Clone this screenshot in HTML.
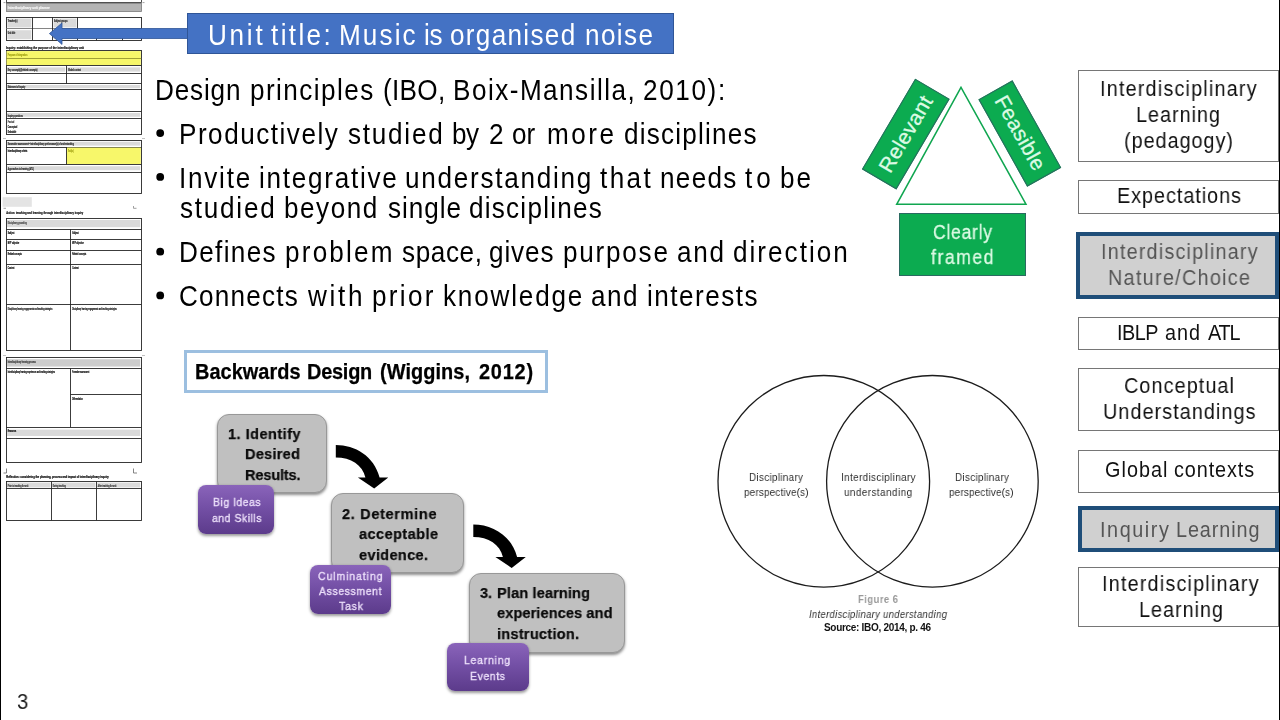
<!DOCTYPE html>
<html lang="en">
<head>
<meta charset="utf-8">
<title>Unit title: Music is organised noise</title>
<style>
html,body{margin:0;padding:0;background:#fff;}
body{width:1280px;height:720px;overflow:hidden;position:relative;font-family:"Liberation Sans",sans-serif;}
#slide{position:absolute;left:0;top:0;width:1280px;height:720px;overflow:hidden;background:#fff;}
.t{position:absolute;white-space:nowrap;line-height:1;color:#000;font-family:"Liberation Sans",sans-serif;will-change:transform;transform-origin:0 0;}
.ln{position:absolute;left:0;width:1280px;height:1em;white-space:nowrap;line-height:1;color:#000;will-change:transform;}
.ln span{position:absolute;top:0;transform:scaleX(var(--sx,1));transform-origin:0 0;}
.abs{position:absolute;box-sizing:border-box;}
svg{position:absolute;left:0;top:0;overflow:visible;}
#thumb{will-change:transform;}

#edgeL{left:0;top:0;width:1px;height:720px;background:#000;}
#edgeR{left:1279px;top:0;width:1px;height:720px;background:#000;}
#titlebox{left:187px;top:13.4px;width:487px;height:40.6px;background:#4472c4;border:1px solid #2f5597;}
.nav{background:#fff;border:1px solid #767676;}
.nav.hl{background:#d0d0d0;border:4px solid #1f4e79;}
#bdtitle{left:184px;top:350px;width:364px;height:42.6px;background:#fff;border:3px solid #9cbfe0;}
.gbox{background:#c0c0c0;border:1.2px solid #989898;border-radius:12px;box-shadow:0 2px 3px rgba(0,0,0,.45);}
.pbox{background:linear-gradient(#8a64ba,#7450a6 45%,#5c3b8b);border-radius:8px;box-shadow:0 1.5px 3px rgba(0,0,0,.4);}
.green{background:#0cab50;border:1.3px solid #2a6a60;}
</style>
</head>
<body>
<div id="slide">
<svg id="thumb" width="150" height="530" viewBox="0 0 150 530" font-family="Liberation Sans, sans-serif">
<rect x="6.5" y="-5.5" width="135.00" height="8.00" fill="#fff" stroke="#262626" stroke-width="0.8"/>
<rect x="6.5" y="3.5" width="135.00" height="8.00" fill="#b4b4b4" stroke="#7a7a7a" stroke-width="0.8"/>
<text x="7.8" y="9.4" font-size="3.57" fill="#f4f4f4" stroke="#f4f4f4" stroke-width="0.2" font-weight="bold" textLength="42" lengthAdjust="spacingAndGlyphs">Interdisciplinary unit planner</text>
<rect x="6.5" y="17.5" width="135.00" height="23.00" fill="#fff" stroke="#262626" stroke-width="0.9"/>
<line x1="6.3" y1="28.5" x2="141.3" y2="28.5" stroke="#777" stroke-width="0.9"/>
<line x1="32.5" y1="17.2" x2="32.5" y2="40.4" stroke="#262626" stroke-width="0.9"/>
<line x1="52.5" y1="17.2" x2="52.5" y2="40.4" stroke="#262626" stroke-width="0.9"/>
<line x1="77.5" y1="17.2" x2="77.5" y2="40.4" stroke="#262626" stroke-width="0.9"/>
<line x1="96.5" y1="28.8" x2="96.5" y2="40.4" stroke="#262626" stroke-width="0.9"/>
<line x1="122.5" y1="28.8" x2="122.5" y2="40.4" stroke="#262626" stroke-width="0.9"/>
<rect x="7.3" y="18.6" width="24.00" height="8.80" fill="#dadada"/>
<rect x="53.5" y="18.6" width="23.00" height="8.80" fill="#dadada"/>
<rect x="7.3" y="30.2" width="24.00" height="9.00" fill="#dadada"/>
<rect x="53.5" y="30.2" width="23.00" height="9.00" fill="#dadada"/>
<rect x="97" y="30.2" width="24.50" height="9.00" fill="#dadada"/>
<text x="7.8" y="22.4" font-size="2.8" fill="#333" stroke="#333" stroke-width="0.2" font-weight="bold" textLength="9.5" lengthAdjust="spacingAndGlyphs">Teacher(s)</text>
<text x="54" y="22.4" font-size="2.8" fill="#333" stroke="#333" stroke-width="0.2" font-weight="bold" textLength="13.5" lengthAdjust="spacingAndGlyphs">Subject groups</text>
<text x="7.8" y="34.0" font-size="2.8" fill="#333" stroke="#333" stroke-width="0.2" font-weight="bold" textLength="7.5" lengthAdjust="spacingAndGlyphs">Unit title</text>
<text x="54" y="34.0" font-size="2.8" fill="#333" stroke="#333" stroke-width="0.2" font-weight="bold" textLength="8.5" lengthAdjust="spacingAndGlyphs">MYP year</text>
<text x="97.5" y="34.0" font-size="2.8" fill="#333" stroke="#333" stroke-width="0.2" font-weight="bold" textLength="11.5" lengthAdjust="spacingAndGlyphs">Unit duration</text>
<text x="6" y="48.6" font-size="2.89" fill="#222" stroke="#222" stroke-width="0.2" font-weight="bold" textLength="78" lengthAdjust="spacingAndGlyphs">Inquiry: establishing the purpose of the interdisciplinary unit</text>
<rect x="6.5" y="50.5" width="135.00" height="84.00" fill="#fff" stroke="#262626" stroke-width="0.9"/>
<rect x="6.5" y="51.1" width="134.30" height="14.20" fill="#f7f76a"/>
<line x1="6.3" y1="58.5" x2="141.3" y2="58.5" stroke="#8a8a2a" stroke-width="0.8"/>
<text x="7.8" y="56.0" font-size="2.8" fill="#a9a91a" stroke="#a9a91a" stroke-width="0.2" font-weight="bold" textLength="19.5" lengthAdjust="spacingAndGlyphs">Purpose of integration</text>
<line x1="6.3" y1="65.5" x2="141.3" y2="65.5" stroke="#262626" stroke-width="0.9"/>
<rect x="7" y="67.4" width="58.20" height="4.20" fill="#dadada"/>
<rect x="67.2" y="67.4" width="73.00" height="4.20" fill="#dadada"/>
<text x="7.8" y="71.0" font-size="2.8" fill="#333" stroke="#333" stroke-width="0.2" font-weight="bold" textLength="29.5" lengthAdjust="spacingAndGlyphs">Key concept(s)/(related concepts)</text>
<text x="68" y="71.0" font-size="2.8" fill="#333" stroke="#333" stroke-width="0.2" font-weight="bold" textLength="13" lengthAdjust="spacingAndGlyphs">Global context</text>
<line x1="6.3" y1="73.5" x2="141.3" y2="73.5" stroke="#262626" stroke-width="0.9"/>
<line x1="66.5" y1="65.6" x2="66.5" y2="83.6" stroke="#262626" stroke-width="0.9"/>
<line x1="6.3" y1="83.5" x2="141.3" y2="83.5" stroke="#262626" stroke-width="0.9"/>
<rect x="7" y="85" width="133.20" height="3.20" fill="#dadada"/>
<text x="7.8" y="88.0" font-size="2.8" fill="#333" stroke="#333" stroke-width="0.2" font-weight="bold" textLength="17.5" lengthAdjust="spacingAndGlyphs">Statement of inquiry</text>
<line x1="6.3" y1="89.5" x2="141.3" y2="89.5" stroke="#262626" stroke-width="0.9"/>
<line x1="6.3" y1="111.5" x2="141.3" y2="111.5" stroke="#262626" stroke-width="0.9"/>
<rect x="7" y="113" width="133.20" height="3.80" fill="#dadada"/>
<text x="7.8" y="116.6" font-size="2.8" fill="#333" stroke="#333" stroke-width="0.2" font-weight="bold" textLength="15" lengthAdjust="spacingAndGlyphs">Inquiry questions</text>
<line x1="6.3" y1="118.5" x2="141.3" y2="118.5" stroke="#262626" stroke-width="0.9"/>
<text x="7.8" y="123.0" font-size="2.8" fill="#444" stroke="#444" stroke-width="0.2" textLength="6.5" lengthAdjust="spacingAndGlyphs">Factual</text>
<text x="7.8" y="128.0" font-size="2.8" fill="#222" stroke="#222" stroke-width="0.2" font-weight="bold" textLength="9.5" lengthAdjust="spacingAndGlyphs">Conceptual</text>
<text x="7.8" y="132.8" font-size="2.8" fill="#222" stroke="#222" stroke-width="0.2" font-weight="bold" textLength="8.5" lengthAdjust="spacingAndGlyphs">Debatable</text>
<rect x="6.5" y="140.5" width="135.00" height="53.00" fill="#fff" stroke="#262626" stroke-width="0.9"/>
<rect x="7" y="141.8" width="133.20" height="3.80" fill="#dadada"/>
<text x="7.8" y="145.4" font-size="2.8" fill="#333" stroke="#333" stroke-width="0.2" font-weight="bold" textLength="66" lengthAdjust="spacingAndGlyphs">Summative assessment—interdisciplinary performance(s) of understanding</text>
<line x1="6.3" y1="147.5" x2="141.3" y2="147.5" stroke="#262626" stroke-width="0.9"/>
<rect x="66.5" y="147.6" width="74.30" height="16.40" fill="#f7f76a"/>
<line x1="66.5" y1="147" x2="66.5" y2="164.6" stroke="#262626" stroke-width="0.9"/>
<text x="7.8" y="152.2" font-size="2.8" fill="#111" stroke="#111" stroke-width="0.2" font-weight="bold" textLength="19.5" lengthAdjust="spacingAndGlyphs">Interdisciplinary criteria</text>
<text x="68" y="152.2" font-size="2.8" fill="#a9a91a" stroke="#a9a91a" stroke-width="0.2" font-weight="bold" textLength="5.5" lengthAdjust="spacingAndGlyphs">Task(s)</text>
<line x1="6.3" y1="164.5" x2="141.3" y2="164.5" stroke="#262626" stroke-width="0.9"/>
<rect x="7" y="166.2" width="133.20" height="4.00" fill="#dadada"/>
<text x="7.8" y="170.0" font-size="2.8" fill="#333" stroke="#333" stroke-width="0.2" font-weight="bold" textLength="26" lengthAdjust="spacingAndGlyphs">Approaches to learning (ATL)</text>
<line x1="6.3" y1="172.5" x2="141.3" y2="172.5" stroke="#262626" stroke-width="0.9"/>
<rect x="2.6" y="197.2" width="29.20" height="9.60" fill="#e4e4e4"/>
<line x1="3.0" y1="138.5" x2="6.0" y2="138.5" stroke="#999" stroke-width="0.6"/>
<line x1="142.0" y1="138.5" x2="145.0" y2="138.5" stroke="#999" stroke-width="0.6"/>
<line x1="3.0" y1="355.5" x2="6.0" y2="355.5" stroke="#999" stroke-width="0.6"/>
<line x1="142.0" y1="355.5" x2="145.0" y2="355.5" stroke="#999" stroke-width="0.6"/>
<path d="M133.5 206v2.3h3M3.5 208.3h2.5" fill="none" stroke="#777" stroke-width="0.7"/>
<path d="M6.5 468.5v4.5h-3M133.5 468.5v4.5h3.5" fill="none" stroke="#666" stroke-width="0.8"/>
<path d="M3.5 2.6h2M142.5 2.6h2" fill="none" stroke="#777" stroke-width="0.7"/>
<text x="6.3" y="213.6" font-size="2.89" fill="#222" stroke="#222" stroke-width="0.2" font-weight="bold" textLength="77" lengthAdjust="spacingAndGlyphs">Action: teaching and learning through interdisciplinary inquiry</text>
<rect x="6.5" y="218.5" width="135.00" height="132.00" fill="#fff" stroke="#262626" stroke-width="0.9"/>
<rect x="7" y="220" width="133.20" height="7.20" fill="#dadada"/>
<text x="7.8" y="223.8" font-size="2.8" fill="#555" stroke="#555" stroke-width="0.2" font-weight="bold" textLength="19" lengthAdjust="spacingAndGlyphs">Disciplinary grounding</text>
<line x1="6.3" y1="229.5" x2="141.3" y2="229.5" stroke="#262626" stroke-width="0.9"/>
<line x1="6.3" y1="239.5" x2="141.3" y2="239.5" stroke="#262626" stroke-width="0.9"/>
<line x1="6.3" y1="250.5" x2="141.3" y2="250.5" stroke="#262626" stroke-width="0.9"/>
<line x1="6.3" y1="264.5" x2="141.3" y2="264.5" stroke="#262626" stroke-width="0.9"/>
<line x1="6.3" y1="304.5" x2="141.3" y2="304.5" stroke="#262626" stroke-width="0.9"/>
<line x1="70.5" y1="229.2" x2="70.5" y2="350.2" stroke="#262626" stroke-width="0.9"/>
<text x="7.8" y="234.2" font-size="2.8" fill="#111" stroke="#111" stroke-width="0.2" font-weight="bold" textLength="6.5" lengthAdjust="spacingAndGlyphs">Subject</text>
<text x="7.8" y="244.4" font-size="2.8" fill="#111" stroke="#111" stroke-width="0.2" font-weight="bold" textLength="11.5" lengthAdjust="spacingAndGlyphs">MYP objective</text>
<text x="7.8" y="255.4" font-size="2.8" fill="#111" stroke="#111" stroke-width="0.2" font-weight="bold" textLength="14" lengthAdjust="spacingAndGlyphs">Related concepts</text>
<text x="7.8" y="269.4" font-size="2.8" fill="#111" stroke="#111" stroke-width="0.2" font-weight="bold" textLength="6.5" lengthAdjust="spacingAndGlyphs">Content</text>
<text x="7.8" y="309.6" font-size="2.8" fill="#222" stroke="#222" stroke-width="0.2" font-weight="bold" textLength="44.5" lengthAdjust="spacingAndGlyphs">Disciplinary learning engagements and teaching strategies</text>
<text x="72.2" y="234.2" font-size="2.8" fill="#111" stroke="#111" stroke-width="0.2" font-weight="bold" textLength="6.5" lengthAdjust="spacingAndGlyphs">Subject</text>
<text x="72.2" y="244.4" font-size="2.8" fill="#111" stroke="#111" stroke-width="0.2" font-weight="bold" textLength="11.5" lengthAdjust="spacingAndGlyphs">MYP objective</text>
<text x="72.2" y="255.4" font-size="2.8" fill="#111" stroke="#111" stroke-width="0.2" font-weight="bold" textLength="14" lengthAdjust="spacingAndGlyphs">Related concepts</text>
<text x="72.2" y="269.4" font-size="2.8" fill="#111" stroke="#111" stroke-width="0.2" font-weight="bold" textLength="6.5" lengthAdjust="spacingAndGlyphs">Content</text>
<text x="72.2" y="309.6" font-size="2.8" fill="#222" stroke="#222" stroke-width="0.2" font-weight="bold" textLength="44.5" lengthAdjust="spacingAndGlyphs">Disciplinary learning engagements and teaching strategies</text>
<rect x="6.5" y="357.5" width="135.00" height="105.00" fill="#fff" stroke="#262626" stroke-width="0.9"/>
<rect x="7" y="359.2" width="133.20" height="7.40" fill="#cdcdcd"/>
<text x="7.8" y="362.8" font-size="2.8" fill="#444" stroke="#444" stroke-width="0.2" font-weight="bold" textLength="28" lengthAdjust="spacingAndGlyphs">Interdisciplinary learning process</text>
<line x1="6.3" y1="368.5" x2="141.3" y2="368.5" stroke="#262626" stroke-width="0.9"/>
<line x1="70.5" y1="368.2" x2="70.5" y2="427.2" stroke="#262626" stroke-width="0.9"/>
<line x1="70.6" y1="394.5" x2="141.3" y2="394.5" stroke="#262626" stroke-width="0.9"/>
<line x1="6.3" y1="427.5" x2="141.3" y2="427.5" stroke="#262626" stroke-width="0.9"/>
<rect x="7" y="429.6" width="133.20" height="6.40" fill="#dadada"/>
<line x1="6.3" y1="438.5" x2="141.3" y2="438.5" stroke="#262626" stroke-width="0.9"/>
<text x="7.8" y="373.4" font-size="2.8" fill="#111" stroke="#111" stroke-width="0.2" font-weight="bold" textLength="47" lengthAdjust="spacingAndGlyphs">Interdisciplinary learning experiences and teaching strategies</text>
<text x="72.2" y="373.4" font-size="2.8" fill="#111" stroke="#111" stroke-width="0.2" font-weight="bold" textLength="17" lengthAdjust="spacingAndGlyphs">Formative assessment</text>
<text x="72.2" y="399.6" font-size="2.8" fill="#111" stroke="#111" stroke-width="0.2" font-weight="bold" textLength="10.5" lengthAdjust="spacingAndGlyphs">Differentiation</text>
<text x="7.8" y="432.4" font-size="2.8" fill="#111" stroke="#111" stroke-width="0.2" font-weight="bold" textLength="8.5" lengthAdjust="spacingAndGlyphs">Resources</text>
<text x="6.3" y="478.4" font-size="2.89" fill="#111" stroke="#111" stroke-width="0.2" font-weight="bold" textLength="102.5" lengthAdjust="spacingAndGlyphs">Reflection: considering the planning, process and impact of interdisciplinary inquiry</text>
<rect x="6.5" y="481.5" width="135.00" height="39.00" fill="#fff" stroke="#262626" stroke-width="0.9"/>
<rect x="7" y="482.6" width="43.40" height="4.80" fill="#dadada"/>
<rect x="52.2" y="482.6" width="43.20" height="4.80" fill="#dadada"/>
<rect x="97.2" y="482.6" width="43.00" height="4.80" fill="#dadada"/>
<line x1="6.3" y1="488.5" x2="141.3" y2="488.5" stroke="#262626" stroke-width="0.9"/>
<line x1="51.5" y1="481.4" x2="51.5" y2="520.2" stroke="#262626" stroke-width="0.9"/>
<line x1="96.5" y1="481.4" x2="96.5" y2="520.2" stroke="#262626" stroke-width="0.9"/>
<text x="7.8" y="486.8" font-size="2.8" fill="#444" stroke="#444" stroke-width="0.2" font-weight="bold" textLength="20.5" lengthAdjust="spacingAndGlyphs">Prior to teaching the unit</text>
<text x="52.8" y="486.8" font-size="2.8" fill="#444" stroke="#444" stroke-width="0.2" font-weight="bold" textLength="13" lengthAdjust="spacingAndGlyphs">During teaching</text>
<text x="97.8" y="486.8" font-size="2.8" fill="#444" stroke="#444" stroke-width="0.2" font-weight="bold" textLength="18.5" lengthAdjust="spacingAndGlyphs">After teaching the unit</text>
</svg>
<svg width="1280" height="720" viewBox="0 0 1280 720"><path d="M49.4 33.6 L62 23 L62 28.5 L190 28.5 L190 38.5 L62 38.5 L62 44.4 Z" fill="#4472c4" stroke="#2f5597" stroke-width="0.8"/></svg>
<div class="abs" id="titlebox"></div>
<svg width="1280" height="720" viewBox="0 0 1280 720"><circle cx="160.2" cy="133.1" r="3.9" fill="#000"/><circle cx="160.2" cy="176.9" r="3.9" fill="#000"/><circle cx="160.2" cy="251.7" r="3.9" fill="#000"/><circle cx="160.2" cy="295.4" r="3.9" fill="#000"/><path d="M961 87.3 L1026 204.3 L896.7 204.3 Z" fill="#fff" stroke="#10a650" stroke-width="1.5"/><circle cx="823.8" cy="481.3" r="105.8" fill="none" stroke="#1c1c1c" stroke-width="1.3"/><circle cx="932.4" cy="481.3" r="105.8" fill="none" stroke="#1c1c1c" stroke-width="1.3"/><path transform="translate(0,0)" d="M335.8 445 C355 445 374 456 379.6 477.5 L388.3 477.5 L374.2 488.4 L357.9 477.6 L365.4 477.5 C362.5 465 351 457.5 335.8 457.5 Z" fill="#000"/><path transform="translate(137.5,79.5)" d="M335.8 445 C355 445 374 456 379.6 477.5 L388.3 477.5 L374.2 488.4 L357.9 477.6 L365.4 477.5 C362.5 465 351 457.5 335.8 457.5 Z" fill="#000"/></svg>
<div class="abs green" style="left:899.2px;top:213.4px;width:127.2px;height:62.4px;"></div>
<div class="abs green" style="left:852.7px;top:114px;width:105.4px;height:39.6px;transform:rotate(-59.5deg);text-align:center;line-height:37.6px;font-size:21px;color:#dcfae4;-webkit-text-stroke:0.3px #dcfae4;letter-spacing:0.3px;white-space:nowrap;">Relevant</div>
<div class="abs green" style="left:970.4px;top:114.2px;width:99.8px;height:38.7px;transform:rotate(60.8deg);text-align:center;line-height:36px;font-size:21px;color:#dcfae4;-webkit-text-stroke:0.3px #dcfae4;letter-spacing:0.4px;white-space:nowrap;">Feasible</div>
<div class="abs nav" style="left:1078px;top:70px;width:201px;height:92px;"></div>
<div class="abs nav" style="left:1078px;top:180px;width:201px;height:34px;"></div>
<div class="abs nav hl" style="left:1076.3px;top:232.3px;width:202.70000000000005px;height:66.8px;"></div>
<div class="abs nav" style="left:1078px;top:317px;width:201px;height:33.4px;"></div>
<div class="abs nav" style="left:1078px;top:368px;width:201px;height:63px;"></div>
<div class="abs nav" style="left:1078px;top:450px;width:201px;height:43px;"></div>
<div class="abs nav hl" style="left:1077.5px;top:505.6px;width:201.5px;height:46px;"></div>
<div class="abs nav" style="left:1078px;top:567px;width:201px;height:60px;"></div>
<div class="abs" id="bdtitle"></div>
<div class="abs gbox" style="left:216.5px;top:413.8px;width:110.4px;height:79.4px;"></div>
<div class="abs gbox" style="left:330.8px;top:492.8px;width:133.2px;height:80.2px;"></div>
<div class="abs gbox" style="left:469px;top:572.6px;width:156px;height:80.4px;"></div>
<div class="abs pbox" style="left:197.8px;top:485.2px;width:76.4px;height:48.4px;"></div>
<div class="abs pbox" style="left:310px;top:565.3px;width:81px;height:49px;"></div>
<div class="abs pbox" style="left:447.4px;top:642.6px;width:81.6px;height:48.6px;"></div>
<div class="abs" id="edgeL"></div><div class="abs" id="edgeR"></div>
<div class="ln" style="top:21.00px;font-size:29px;color:#fff;--sx:0.9;"><span style="left:207.90px;letter-spacing:3.05px;">Unit</span> <span style="left:271.20px;letter-spacing:2.64px;">title:</span> <span style="left:338.75px;letter-spacing:2.36px;">Music</span> <span style="left:423.60px;letter-spacing:-0.22px;">is</span> <span style="left:450.00px;letter-spacing:1.47px;">organised</span> <span style="left:585.10px;letter-spacing:1.53px;">noise</span></div>
<div class="ln" style="top:76.00px;font-size:29px;--sx:0.9;"><span style="left:154.75px;letter-spacing:0.94px;">Design</span> <span style="left:250.15px;letter-spacing:1.60px;">principles</span> <span style="left:383.15px;letter-spacing:0.35px;">(IBO,</span> <span style="left:452.75px;letter-spacing:1.65px;">Boix-Mansilla,</span> <span style="left:643.15px;letter-spacing:1.81px;">2010):</span></div>
<div class="ln" style="top:120.00px;font-size:29px;--sx:0.9;"><span style="left:178.50px;letter-spacing:1.68px;">Productively</span> <span style="left:347.80px;letter-spacing:1.95px;">studied</span> <span style="left:452.15px;letter-spacing:-0.52px;">by</span> <span style="left:489.05px;">2</span> <span style="left:512.40px;letter-spacing:0.04px;">or</span> <span style="left:547.40px;letter-spacing:2.82px;">more</span> <span style="left:624.40px;letter-spacing:1.34px;">disciplines</span></div>
<div class="ln" style="top:164.00px;font-size:29px;--sx:0.9;"><span style="left:179.00px;letter-spacing:1.96px;">Invite</span> <span style="left:258.65px;letter-spacing:1.93px;">integrative</span> <span style="left:404.90px;letter-spacing:1.93px;">understanding</span> <span style="left:600.30px;letter-spacing:2.65px;">that</span> <span style="left:660.40px;letter-spacing:1.45px;">needs</span> <span style="left:745.30px;letter-spacing:4.39px;">to</span> <span style="left:780.40px;letter-spacing:2.09px;">be</span></div>
<div class="ln" style="top:194.00px;font-size:29px;--sx:0.9;"><span style="left:179.80px;letter-spacing:1.95px;">studied</span> <span style="left:284.40px;letter-spacing:1.71px;">beyond</span> <span style="left:387.80px;letter-spacing:1.05px;">single</span> <span style="left:469.40px;letter-spacing:1.37px;">disciplines</span></div>
<div class="ln" style="top:238.00px;font-size:29px;--sx:0.9;"><span style="left:178.50px;letter-spacing:1.51px;">Defines</span> <span style="left:285.15px;letter-spacing:2.46px;">problem</span> <span style="left:402.15px;letter-spacing:0.67px;">space,</span> <span style="left:489.40px;letter-spacing:0.99px;">gives</span> <span style="left:563.15px;letter-spacing:1.97px;">purpose</span> <span style="left:676.70px;letter-spacing:1.98px;">and</span> <span style="left:732.80px;letter-spacing:2.24px;">direction</span></div>
<div class="ln" style="top:282.00px;font-size:29px;--sx:0.9;"><span style="left:178.90px;letter-spacing:1.35px;">Connects</span> <span style="left:308.20px;letter-spacing:3.00px;">with</span> <span style="left:371.90px;letter-spacing:2.58px;">prior</span> <span style="left:442.65px;letter-spacing:2.02px;">knowledge</span> <span style="left:590.65px;letter-spacing:1.62px;">and</span> <span style="left:647.00px;letter-spacing:1.65px;">interests</span></div>
<div class="ln" style="top:361.00px;font-size:21.2px;font-weight:bold;--sx:0.94;-webkit-text-stroke:0.25px #000;"><span style="left:194.86px;letter-spacing:0.05px;">Backwards</span> <span style="left:307.46px;letter-spacing:-0.25px;">Design</span> <span style="left:380.16px;letter-spacing:0.07px;">(Wiggins,</span> <span style="left:478.60px;letter-spacing:0.84px;">2012)</span></div>
<div class="ln" style="top:322.00px;font-size:22px;color:#111;--sx:0.9;"><span style="left:1116.90px;letter-spacing:-0.53px;">IBLP</span> <span style="left:1165.40px;letter-spacing:1.10px;">and</span> <span style="left:1207.50px;letter-spacing:-1.35px;">ATL</span></div>
<div class="ln" style="top:459.00px;font-size:22px;color:#111;--sx:0.9;"><span style="left:1104.60px;letter-spacing:1.17px;">Global</span> <span style="left:1174.10px;letter-spacing:1.01px;">contexts</span></div>
<div class="ln" style="top:519.00px;font-size:22px;color:#555;--sx:0.9;"><span style="left:1100.10px;letter-spacing:1.75px;">Inquiry</span> <span style="left:1175.90px;letter-spacing:1.02px;">Learning</span></div>
<div class="t" style="left:17.00px;top:692.00px;font-size:21.5px;transform:scaleX(0.94);color:#1a1a1a;">3</div>
<div class="t" style="left:228.00px;top:426.00px;font-size:15.5px;letter-spacing:0.48px;transform:scaleX(0.94);font-weight:bold;color:#0a0a0a;-webkit-text-stroke:0.25px #0a0a0a;">1. Identify</div>
<div class="t" style="left:245.00px;top:446.00px;font-size:15.5px;letter-spacing:0.27px;transform:scaleX(0.94);font-weight:bold;color:#0a0a0a;-webkit-text-stroke:0.25px #0a0a0a;">Desired</div>
<div class="t" style="left:245.00px;top:467.00px;font-size:15.5px;letter-spacing:-0.18px;transform:scaleX(0.94);font-weight:bold;color:#0a0a0a;-webkit-text-stroke:0.25px #0a0a0a;">Results.</div>
<div class="t" style="left:341.80px;top:506.00px;font-size:15.5px;letter-spacing:0.68px;transform:scaleX(0.94);font-weight:bold;color:#0a0a0a;-webkit-text-stroke:0.25px #0a0a0a;">2. Determine</div>
<div class="t" style="left:358.90px;top:526.00px;font-size:15.5px;letter-spacing:0.43px;transform:scaleX(0.94);font-weight:bold;color:#0a0a0a;-webkit-text-stroke:0.25px #0a0a0a;">acceptable</div>
<div class="t" style="left:358.90px;top:547.00px;font-size:15.5px;letter-spacing:0.34px;transform:scaleX(0.94);font-weight:bold;color:#0a0a0a;-webkit-text-stroke:0.25px #0a0a0a;">evidence.</div>
<div class="t" style="left:480.20px;top:585.00px;font-size:15.5px;transform:scaleX(0.94);font-weight:bold;color:#0a0a0a;-webkit-text-stroke:0.25px #0a0a0a;">3.</div>
<div class="t" style="left:497.00px;top:585.00px;font-size:15.5px;letter-spacing:0.13px;transform:scaleX(0.94);font-weight:bold;color:#0a0a0a;-webkit-text-stroke:0.25px #0a0a0a;">Plan learning</div>
<div class="t" style="left:497.00px;top:605.00px;font-size:15.5px;letter-spacing:0.1px;transform:scaleX(0.94);font-weight:bold;color:#0a0a0a;-webkit-text-stroke:0.25px #0a0a0a;">experiences and</div>
<div class="t" style="left:497.00px;top:626.00px;font-size:15.5px;letter-spacing:0.26px;transform:scaleX(0.94);font-weight:bold;color:#0a0a0a;-webkit-text-stroke:0.25px #0a0a0a;">instruction.</div>
<div class="t" style="left:212.57px;top:496.00px;font-size:11.6px;letter-spacing:0.55px;transform:scaleX(0.9);color:#ecdffa;-webkit-text-stroke:0.35px #ecdffa;">Big Ideas</div>
<div class="t" style="left:211.54px;top:512.00px;font-size:11.6px;letter-spacing:0.6px;transform:scaleX(0.9);color:#ecdffa;-webkit-text-stroke:0.35px #ecdffa;">and Skills</div>
<div class="t" style="left:318.27px;top:570.00px;font-size:11.6px;letter-spacing:1.04px;transform:scaleX(0.9);color:#ecdffa;-webkit-text-stroke:0.35px #ecdffa;">Culminating</div>
<div class="t" style="left:319.24px;top:585.00px;font-size:11.6px;letter-spacing:0.7px;transform:scaleX(0.9);color:#ecdffa;-webkit-text-stroke:0.35px #ecdffa;">Assessment</div>
<div class="t" style="left:338.50px;top:600.00px;font-size:11.6px;letter-spacing:0.94px;transform:scaleX(0.9);color:#ecdffa;-webkit-text-stroke:0.35px #ecdffa;">Task</div>
<div class="t" style="left:464.48px;top:654.00px;font-size:11.6px;letter-spacing:0.86px;transform:scaleX(0.9);color:#ecdffa;-webkit-text-stroke:0.35px #ecdffa;">Learning</div>
<div class="t" style="left:469.99px;top:670.00px;font-size:11.6px;letter-spacing:0.69px;transform:scaleX(0.9);color:#ecdffa;-webkit-text-stroke:0.35px #ecdffa;">Events</div>
<div class="t" style="left:933.00px;top:223.00px;font-size:19.5px;letter-spacing:0.81px;transform:scaleX(0.9);color:#dcfae4;-webkit-text-stroke:0.3px #dcfae4;">Clearly</div>
<div class="t" style="left:931.25px;top:248.00px;font-size:19.5px;letter-spacing:1.75px;transform:scaleX(0.9);color:#dcfae4;-webkit-text-stroke:0.3px #dcfae4;">framed</div>
<div class="t" style="left:1100.12px;top:78.00px;font-size:22px;letter-spacing:1.32px;transform:scaleX(0.9);color:#111;">Interdisciplinary</div>
<div class="t" style="left:1136.40px;top:104.00px;font-size:22px;letter-spacing:1.1px;transform:scaleX(0.9);color:#111;">Learning</div>
<div class="t" style="left:1123.89px;top:130.00px;font-size:22px;letter-spacing:1.09px;transform:scaleX(0.9);color:#111;">(pedagogy)</div>
<div class="t" style="left:1117.32px;top:185.00px;font-size:22px;letter-spacing:1.07px;transform:scaleX(0.9);color:#111;">Expectations</div>
<div class="t" style="left:1101.12px;top:241.00px;font-size:22px;letter-spacing:1.32px;transform:scaleX(0.9);color:#555;">Interdisciplinary</div>
<div class="t" style="left:1108.39px;top:267.00px;font-size:22px;letter-spacing:1.43px;transform:scaleX(0.9);color:#555;">Nature/Choice</div>
<div class="t" style="left:1124.41px;top:375.00px;font-size:22px;letter-spacing:1.21px;transform:scaleX(0.9);color:#111;">Conceptual</div>
<div class="t" style="left:1103.15px;top:401.00px;font-size:22px;letter-spacing:1.18px;transform:scaleX(0.9);color:#111;">Understandings</div>
<div class="t" style="left:1102.32px;top:573.00px;font-size:22px;letter-spacing:1.32px;transform:scaleX(0.9);color:#111;">Interdisciplinary</div>
<div class="t" style="left:1138.80px;top:599.00px;font-size:22px;letter-spacing:1.1px;transform:scaleX(0.9);color:#111;">Learning</div>
<div class="t" style="left:749.00px;top:472.00px;font-size:11px;letter-spacing:0.34px;transform:scaleX(0.9);color:#2e2e2e;">Disciplinary</div>
<div class="t" style="left:743.74px;top:487.00px;font-size:11px;letter-spacing:0.2px;transform:scaleX(0.9);color:#2e2e2e;">perspective(s)</div>
<div class="t" style="left:840.73px;top:472.00px;font-size:11px;letter-spacing:0.4px;transform:scaleX(0.9);color:#2e2e2e;">Interdisciplinary</div>
<div class="t" style="left:843.97px;top:487.00px;font-size:11px;letter-spacing:0.49px;transform:scaleX(0.9);color:#2e2e2e;">understanding</div>
<div class="t" style="left:954.50px;top:472.00px;font-size:11px;letter-spacing:0.34px;transform:scaleX(0.9);color:#2e2e2e;">Disciplinary</div>
<div class="t" style="left:949.24px;top:487.00px;font-size:11px;letter-spacing:0.2px;transform:scaleX(0.9);color:#2e2e2e;">perspective(s)</div>
<div class="t" style="left:858.01px;top:594.00px;font-size:10.5px;letter-spacing:0.51px;transform:scaleX(0.9);font-weight:bold;color:#9a9a9a;">Figure 6</div>
<div class="t" style="left:809.05px;top:609.00px;font-size:10.5px;letter-spacing:0.36px;transform:scaleX(0.9);font-style:italic;color:#333;">Interdisciplinary understanding</div>
<div class="t" style="left:824.48px;top:623.00px;font-size:10px;letter-spacing:-0.3px;font-weight:bold;color:#111;">Source: IBO, 2014, p. 46</div>
</div>
</body>
</html>
